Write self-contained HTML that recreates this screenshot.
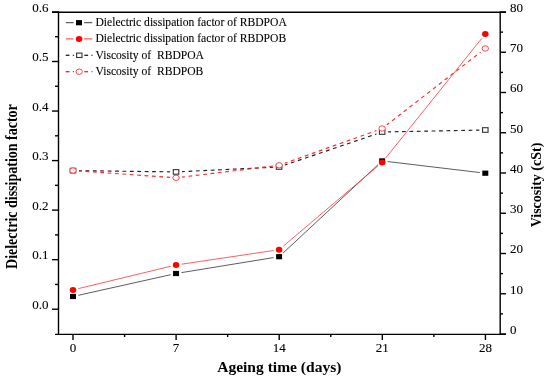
<!DOCTYPE html>
<html><head><meta charset="utf-8"><style>
html,body{margin:0;padding:0;background:#fff;}
svg{display:block;}
.tk{font-family:"Liberation Serif",serif;font-size:13px;fill:#000;stroke:#000;stroke-width:0.1px;}
.tt{font-family:"Liberation Serif",serif;font-size:14px;font-weight:bold;fill:#000;}
.lg{font-family:"Liberation Serif",serif;font-size:11.6px;fill:#000;stroke:#000;stroke-width:0.1px;white-space:pre;}
</style></head><body>
<svg width="550" height="378" viewBox="0 0 550 378">
<rect width="550" height="378" fill="#fff"/>
<line x1="78.37" y1="295.30" x2="170.68" y2="274.70" stroke="#333" stroke-width="0.8"/>
<line x1="181.48" y1="272.62" x2="273.67" y2="257.58" stroke="#333" stroke-width="0.8"/>
<line x1="283.13" y1="252.96" x2="378.12" y2="164.64" stroke="#333" stroke-width="0.8"/>
<line x1="387.61" y1="161.55" x2="479.84" y2="172.55" stroke="#333" stroke-width="0.8"/>
<line x1="78.35" y1="288.61" x2="170.70" y2="266.29" stroke="#ff3535" stroke-width="0.8"/>
<line x1="181.49" y1="264.19" x2="273.66" y2="250.51" stroke="#ff3535" stroke-width="0.8"/>
<line x1="283.30" y1="246.14" x2="377.95" y2="165.96" stroke="#ff3535" stroke-width="0.8"/>
<line x1="385.59" y1="158.11" x2="481.86" y2="38.29" stroke="#ff3535" stroke-width="0.8"/>
<line x1="79.00" y1="170.68" x2="170.05" y2="171.82" stroke="#222" stroke-width="1.15" stroke-dasharray="3.8 3.6" stroke-dashoffset="0.90"/>
<line x1="182.04" y1="171.62" x2="273.11" y2="167.28" stroke="#222" stroke-width="1.15" stroke-dasharray="3.8 3.6" stroke-dashoffset="0.90"/>
<line x1="284.78" y1="165.07" x2="376.47" y2="133.93" stroke="#222" stroke-width="1.15" stroke-dasharray="3.8 3.6" stroke-dashoffset="0.90"/>
<line x1="388.15" y1="131.88" x2="479.30" y2="130.12" stroke="#222" stroke-width="1.15" stroke-dasharray="3.8 3.6" stroke-dashoffset="0.90"/>
<line x1="78.99" y1="170.92" x2="170.06" y2="177.38" stroke="#ff2a2a" stroke-width="1.15" stroke-dasharray="3.8 3.6" stroke-dashoffset="0.90"/>
<line x1="182.01" y1="177.08" x2="273.14" y2="166.02" stroke="#ff2a2a" stroke-width="1.15" stroke-dasharray="3.8 3.6" stroke-dashoffset="0.90"/>
<line x1="284.75" y1="163.28" x2="376.50" y2="130.52" stroke="#ff2a2a" stroke-width="1.15" stroke-dasharray="3.8 3.6" stroke-dashoffset="0.90"/>
<line x1="386.89" y1="124.82" x2="480.56" y2="52.18" stroke="#ff2a2a" stroke-width="1.15" stroke-dasharray="3.8 3.6" stroke-dashoffset="0.90"/>
<rect x="70.00" y="293.90" width="6" height="5.2" fill="#000"/>
<rect x="173.05" y="270.90" width="6" height="5.2" fill="#000"/>
<rect x="276.10" y="254.10" width="6" height="5.2" fill="#000"/>
<rect x="379.15" y="158.30" width="6" height="5.2" fill="#000"/>
<rect x="482.30" y="170.60" width="6" height="5.2" fill="#000"/>
<ellipse cx="73.00" cy="289.90" rx="3.3" ry="3.0" fill="#ff0000"/>
<ellipse cx="176.05" cy="265.00" rx="3.3" ry="3.0" fill="#ff0000"/>
<ellipse cx="279.10" cy="249.70" rx="3.3" ry="3.0" fill="#ff0000"/>
<ellipse cx="382.15" cy="162.40" rx="3.3" ry="3.0" fill="#ff0000"/>
<ellipse cx="485.30" cy="34.00" rx="3.3" ry="3.0" fill="#ff0000"/>
<rect x="70.25" y="168.30" width="5.5" height="4.6" fill="#fff" stroke="#333" stroke-width="1.1"/>
<rect x="173.30" y="169.60" width="5.5" height="4.6" fill="#fff" stroke="#333" stroke-width="1.1"/>
<rect x="276.35" y="164.70" width="5.5" height="4.6" fill="#fff" stroke="#333" stroke-width="1.1"/>
<rect x="379.40" y="129.70" width="5.5" height="4.6" fill="#fff" stroke="#333" stroke-width="1.1"/>
<rect x="482.55" y="127.70" width="5.5" height="4.6" fill="#fff" stroke="#333" stroke-width="1.1"/>
<ellipse cx="73.00" cy="170.50" rx="3.2" ry="2.7" fill="#fff" stroke="#ff3030" stroke-width="0.9"/>
<ellipse cx="176.05" cy="177.80" rx="3.2" ry="2.7" fill="#fff" stroke="#ff3030" stroke-width="0.9"/>
<ellipse cx="279.10" cy="165.30" rx="3.2" ry="2.7" fill="#fff" stroke="#ff3030" stroke-width="0.9"/>
<ellipse cx="382.15" cy="128.50" rx="3.2" ry="2.7" fill="#fff" stroke="#ff3030" stroke-width="0.9"/>
<ellipse cx="485.30" cy="48.50" rx="3.2" ry="2.7" fill="#fff" stroke="#ff3030" stroke-width="0.9"/>
<line x1="52" y1="12.2" x2="506" y2="12.2" stroke="#000" stroke-width="1.4"/>
<line x1="55" y1="334.4" x2="506" y2="334.4" stroke="#000" stroke-width="1.4"/>
<line x1="58.5" y1="11.5" x2="58.5" y2="335.09999999999997" stroke="#000" stroke-width="1.4"/>
<line x1="500.2" y1="11.5" x2="500.2" y2="335.09999999999997" stroke="#000" stroke-width="1.4"/>
<line x1="52" y1="309.20" x2="58.5" y2="309.20" stroke="#000" stroke-width="1.4"/>
<text x="48.6" y="309.00" class="tk" text-anchor="end">0.0</text>
<line x1="52" y1="259.66" x2="58.5" y2="259.66" stroke="#000" stroke-width="1.4"/>
<text x="48.6" y="259.46" class="tk" text-anchor="end">0.1</text>
<line x1="52" y1="210.12" x2="58.5" y2="210.12" stroke="#000" stroke-width="1.4"/>
<text x="48.6" y="209.92" class="tk" text-anchor="end">0.2</text>
<line x1="52" y1="160.58" x2="58.5" y2="160.58" stroke="#000" stroke-width="1.4"/>
<text x="48.6" y="160.38" class="tk" text-anchor="end">0.3</text>
<line x1="52" y1="111.04" x2="58.5" y2="111.04" stroke="#000" stroke-width="1.4"/>
<text x="48.6" y="110.84" class="tk" text-anchor="end">0.4</text>
<line x1="52" y1="61.50" x2="58.5" y2="61.50" stroke="#000" stroke-width="1.4"/>
<text x="48.6" y="61.30" class="tk" text-anchor="end">0.5</text>
<line x1="52" y1="11.96" x2="58.5" y2="11.96" stroke="#000" stroke-width="1.4"/>
<text x="48.6" y="11.76" class="tk" text-anchor="end">0.6</text>
<line x1="55" y1="284.43" x2="58.5" y2="284.43" stroke="#000" stroke-width="1.4"/>
<line x1="55" y1="234.89" x2="58.5" y2="234.89" stroke="#000" stroke-width="1.4"/>
<line x1="55" y1="185.35" x2="58.5" y2="185.35" stroke="#000" stroke-width="1.4"/>
<line x1="55" y1="135.81" x2="58.5" y2="135.81" stroke="#000" stroke-width="1.4"/>
<line x1="55" y1="86.27" x2="58.5" y2="86.27" stroke="#000" stroke-width="1.4"/>
<line x1="55" y1="36.73" x2="58.5" y2="36.73" stroke="#000" stroke-width="1.4"/>
<line x1="500.2" y1="334.00" x2="506" y2="334.00" stroke="#000" stroke-width="1.4"/>
<text x="510" y="333.80" class="tk">0</text>
<line x1="500.2" y1="293.75" x2="506" y2="293.75" stroke="#000" stroke-width="1.4"/>
<text x="510" y="293.55" class="tk">10</text>
<line x1="500.2" y1="253.50" x2="506" y2="253.50" stroke="#000" stroke-width="1.4"/>
<text x="510" y="253.30" class="tk">20</text>
<line x1="500.2" y1="213.25" x2="506" y2="213.25" stroke="#000" stroke-width="1.4"/>
<text x="510" y="213.05" class="tk">30</text>
<line x1="500.2" y1="173.00" x2="506" y2="173.00" stroke="#000" stroke-width="1.4"/>
<text x="510" y="172.80" class="tk">40</text>
<line x1="500.2" y1="132.75" x2="506" y2="132.75" stroke="#000" stroke-width="1.4"/>
<text x="510" y="132.55" class="tk">50</text>
<line x1="500.2" y1="92.50" x2="506" y2="92.50" stroke="#000" stroke-width="1.4"/>
<text x="510" y="92.30" class="tk">60</text>
<line x1="500.2" y1="52.25" x2="506" y2="52.25" stroke="#000" stroke-width="1.4"/>
<text x="510" y="52.05" class="tk">70</text>
<line x1="500.2" y1="12.00" x2="506" y2="12.00" stroke="#000" stroke-width="1.4"/>
<text x="510" y="11.80" class="tk">80</text>
<line x1="500.2" y1="313.88" x2="503" y2="313.88" stroke="#000" stroke-width="1.4"/>
<line x1="500.2" y1="273.62" x2="503" y2="273.62" stroke="#000" stroke-width="1.4"/>
<line x1="500.2" y1="233.38" x2="503" y2="233.38" stroke="#000" stroke-width="1.4"/>
<line x1="500.2" y1="193.12" x2="503" y2="193.12" stroke="#000" stroke-width="1.4"/>
<line x1="500.2" y1="152.87" x2="503" y2="152.87" stroke="#000" stroke-width="1.4"/>
<line x1="500.2" y1="112.62" x2="503" y2="112.62" stroke="#000" stroke-width="1.4"/>
<line x1="500.2" y1="72.38" x2="503" y2="72.38" stroke="#000" stroke-width="1.4"/>
<line x1="500.2" y1="32.12" x2="503" y2="32.12" stroke="#000" stroke-width="1.4"/>
<line x1="73.00" y1="334.4" x2="73.00" y2="340" stroke="#000" stroke-width="1.4"/>
<text x="73.00" y="352.3" class="tk" text-anchor="middle">0</text>
<line x1="176.11" y1="334.4" x2="176.11" y2="340" stroke="#000" stroke-width="1.4"/>
<text x="176.11" y="352.3" class="tk" text-anchor="middle">7</text>
<line x1="279.22" y1="334.4" x2="279.22" y2="340" stroke="#000" stroke-width="1.4"/>
<text x="279.22" y="352.3" class="tk" text-anchor="middle">14</text>
<line x1="382.33" y1="334.4" x2="382.33" y2="340" stroke="#000" stroke-width="1.4"/>
<text x="382.33" y="352.3" class="tk" text-anchor="middle">21</text>
<line x1="485.44" y1="334.4" x2="485.44" y2="340" stroke="#000" stroke-width="1.4"/>
<text x="485.44" y="352.3" class="tk" text-anchor="middle">28</text>
<line x1="124.56" y1="334.4" x2="124.56" y2="337" stroke="#000" stroke-width="1.4"/>
<line x1="227.66" y1="334.4" x2="227.66" y2="337" stroke="#000" stroke-width="1.4"/>
<line x1="330.78" y1="334.4" x2="330.78" y2="337" stroke="#000" stroke-width="1.4"/>
<line x1="433.88" y1="334.4" x2="433.88" y2="337" stroke="#000" stroke-width="1.4"/>
<text transform="translate(279.3 371.5) scale(1.11 1)" class="tt" text-anchor="middle">Ageing time (days)</text>
<text transform="translate(16.6 186.6) scale(1.15 1) rotate(-90)" class="tt" text-anchor="middle">Dielectric dissipation factor</text>
<text transform="translate(541.2 185) rotate(-90)" class="tt" text-anchor="middle">Viscosity (cSt)</text>
<line x1="65.9" y1="22.7" x2="73.6" y2="22.7" stroke="#222" stroke-width="0.9"/>
<line x1="84.1" y1="22.7" x2="92.3" y2="22.7" stroke="#222" stroke-width="0.9"/>
<rect x="76" y="20.099999999999998" width="6" height="5.2" fill="#000"/>
<line x1="65.9" y1="38.9" x2="73.6" y2="38.9" stroke="#ff2020" stroke-width="0.9"/>
<line x1="84.1" y1="38.9" x2="92.3" y2="38.9" stroke="#ff2020" stroke-width="0.9"/>
<ellipse cx="79.1" cy="38.9" rx="3.3" ry="3.0" fill="#ff0000"/>
<line x1="65.7" y1="55.3" x2="69.5" y2="55.3" stroke="#222" stroke-width="1.3"/>
<line x1="72.8" y1="55.3" x2="73.9" y2="55.3" stroke="#222" stroke-width="1.3"/>
<line x1="84.3" y1="55.3" x2="88.1" y2="55.3" stroke="#222" stroke-width="1.3"/>
<line x1="91.4" y1="55.3" x2="92.5" y2="55.3" stroke="#222" stroke-width="1.3"/>
<rect x="76.6" y="53.099999999999994" width="5.4" height="4.4" fill="#fff" stroke="#333" stroke-width="1.1"/>
<line x1="65.7" y1="71.7" x2="69.5" y2="71.7" stroke="#ff1a1a" stroke-width="1.3"/>
<line x1="72.8" y1="71.7" x2="73.9" y2="71.7" stroke="#ff1a1a" stroke-width="1.3"/>
<line x1="84.3" y1="71.7" x2="88.1" y2="71.7" stroke="#ff1a1a" stroke-width="1.3"/>
<line x1="91.4" y1="71.7" x2="92.5" y2="71.7" stroke="#ff1a1a" stroke-width="1.3"/>
<ellipse cx="79.2" cy="71.7" rx="3.2" ry="2.7" fill="#fff" stroke="#ff3030" stroke-width="0.9"/>
<text x="95.5" y="26.2" class="lg" xml:space="preserve">Dielectric dissipation factor of RBDPOA</text>
<text x="95.5" y="42.4" class="lg" xml:space="preserve">Dielectric dissipation factor of RBDPOB</text>
<text x="95.5" y="58.8" class="lg" xml:space="preserve">Viscosity of  RBDPOA</text>
<text x="95.5" y="75.2" class="lg" xml:space="preserve">Viscosity of  RBDPOB</text>
</svg>
</body></html>
